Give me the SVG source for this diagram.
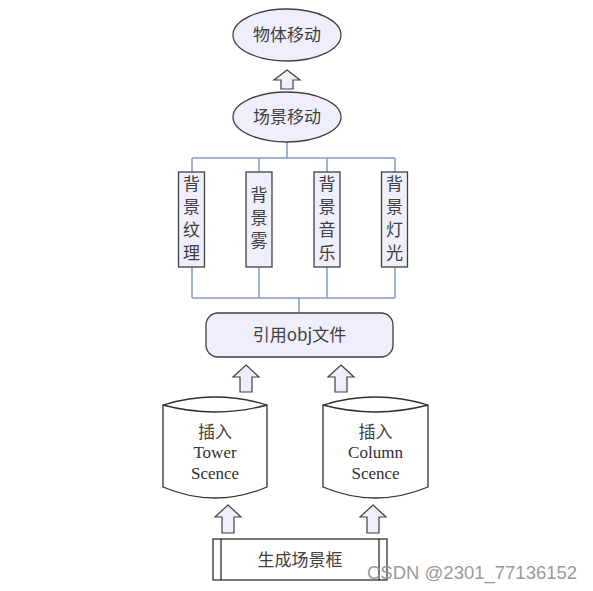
<svg xmlns="http://www.w3.org/2000/svg" width="593" height="591" viewBox="0 0 593 591">
<style>
.fill{fill:#eeeffa;stroke:#404040;stroke-width:1.3}
.wfill{fill:#ffffff;stroke:#303030;stroke-width:1.3}
.arrow{fill:#eeeffa;stroke:#404040;stroke-width:1.2}
.line{fill:none;stroke:#7f9cc4;stroke-width:1.5}
.cn{font-family:"Noto Sans CJK SC","Noto Sans",sans-serif;font-size:17px;fill:#404040;text-anchor:middle}
.cv{font-family:"Noto Sans CJK SC","Noto Sans",sans-serif;font-size:17px;fill:#404040;text-anchor:middle}
.en{font-family:"Liberation Serif",serif;font-size:17px;fill:#303030;text-anchor:middle}
.wm{font-family:"Liberation Sans",Arial,sans-serif;font-size:18.5px;fill:#9a9a9a}
</style>
<rect width="593" height="591" fill="#ffffff"/>
<g id="connectors">
<path class="line" d="M287,142 V158 M192,158 H395 M192,158 V172 M259,158 V172 M327,158 V172 M395,158 V172"/>
<path class="line" d="M192,267 V298 M259,267 V298 M327,267 V298 M395,267 V298 M192,298 H395 M299,298 V313"/>
<path class="arrow" d="M287,70 L300,80 L293,80 L293,89 L281,89 L281,80 L274,80 Z"/>
<path class="arrow" d="M246,365 L259,377 L252,377 L252,392 L240,392 L240,377 L233,377 Z"/>
<path class="arrow" d="M341,365 L354,377 L347,377 L347,392 L335,392 L335,377 L328,377 Z"/>
<path class="arrow" d="M228,505 L241,517 L234,517 L234,533 L222,533 L222,517 L215,517 Z"/>
<path class="arrow" d="M373,505 L386,517 L379,517 L379,533 L367,533 L367,517 L360,517 Z"/>
</g>
<g id="n_wuti">
<ellipse class="fill" cx="287" cy="35" rx="54" ry="26"/>
<text class="cn" x="287" y="41">物体移动</text>
</g>
<g id="n_changjing">
<ellipse class="fill" cx="287" cy="117" rx="54" ry="25"/>
<text class="cn" x="287" y="123">场景移动</text>
</g>
<g id="n_wenli">
<rect class="fill" x="178.5" y="172" width="26" height="95"/>
<text class="cv" x="191.5" y="190">背</text>
<text class="cv" x="191.5" y="213">景</text>
<text class="cv" x="191.5" y="236">纹</text>
<text class="cv" x="191.5" y="259">理</text>
</g>
<g id="n_wu">
<rect class="fill" x="246" y="172" width="26" height="95"/>
<text class="cv" x="259" y="201">背</text>
<text class="cv" x="259" y="224">景</text>
<text class="cv" x="259" y="247">雾</text>
</g>
<g id="n_yinyue">
<rect class="fill" x="314" y="172" width="26" height="95"/>
<text class="cv" x="327" y="190">背</text>
<text class="cv" x="327" y="213">景</text>
<text class="cv" x="327" y="236">音</text>
<text class="cv" x="327" y="259">乐</text>
</g>
<g id="n_dengguang">
<rect class="fill" x="381.5" y="172" width="26" height="95"/>
<text class="cv" x="394.5" y="190">背</text>
<text class="cv" x="394.5" y="213">景</text>
<text class="cv" x="394.5" y="236">灯</text>
<text class="cv" x="394.5" y="259">光</text>
</g>
<g id="n_obj">
<rect class="fill" x="206" y="313" width="187" height="44" rx="12" ry="12"/>
<text class="cn" x="299.5" y="341">引用obj文件</text>
</g>
<g id="n_tower">
<path class="wfill" d="M163,405 Q215,389 267,405 L267,487 Q215,509 163,487 Z"/>
<path class="wfill" fill="none" d="M163,405 Q215,419 267,405"/>
<text class="cn" x="215" y="438">插入</text>
<text class="en" x="215" y="458">Tower</text>
<text class="en" x="215" y="479">Scence</text>
</g>
<g id="n_column">
<path class="wfill" d="M323,405 Q375.5,389 428,405 L428,487 Q375.5,509 323,487 Z"/>
<path class="wfill" fill="none" d="M323,405 Q375.5,419 428,405"/>
<text class="cn" x="375.5" y="438">插入</text>
<text class="en" x="375.5" y="458">Column</text>
<text class="en" x="375.5" y="479">Scence</text>
</g>
<g id="n_shengcheng">
<rect class="wfill" x="213" y="539" width="174" height="41"/>
<path fill="none" stroke="#303030" stroke-width="1.3" d="M221,539 V580 M379,539 V580"/>
<text class="cn" x="300" y="566">生成场景框</text>
</g>
<text class="wm" x="367" y="579">CSDN @2301_77136152</text>
</svg>
